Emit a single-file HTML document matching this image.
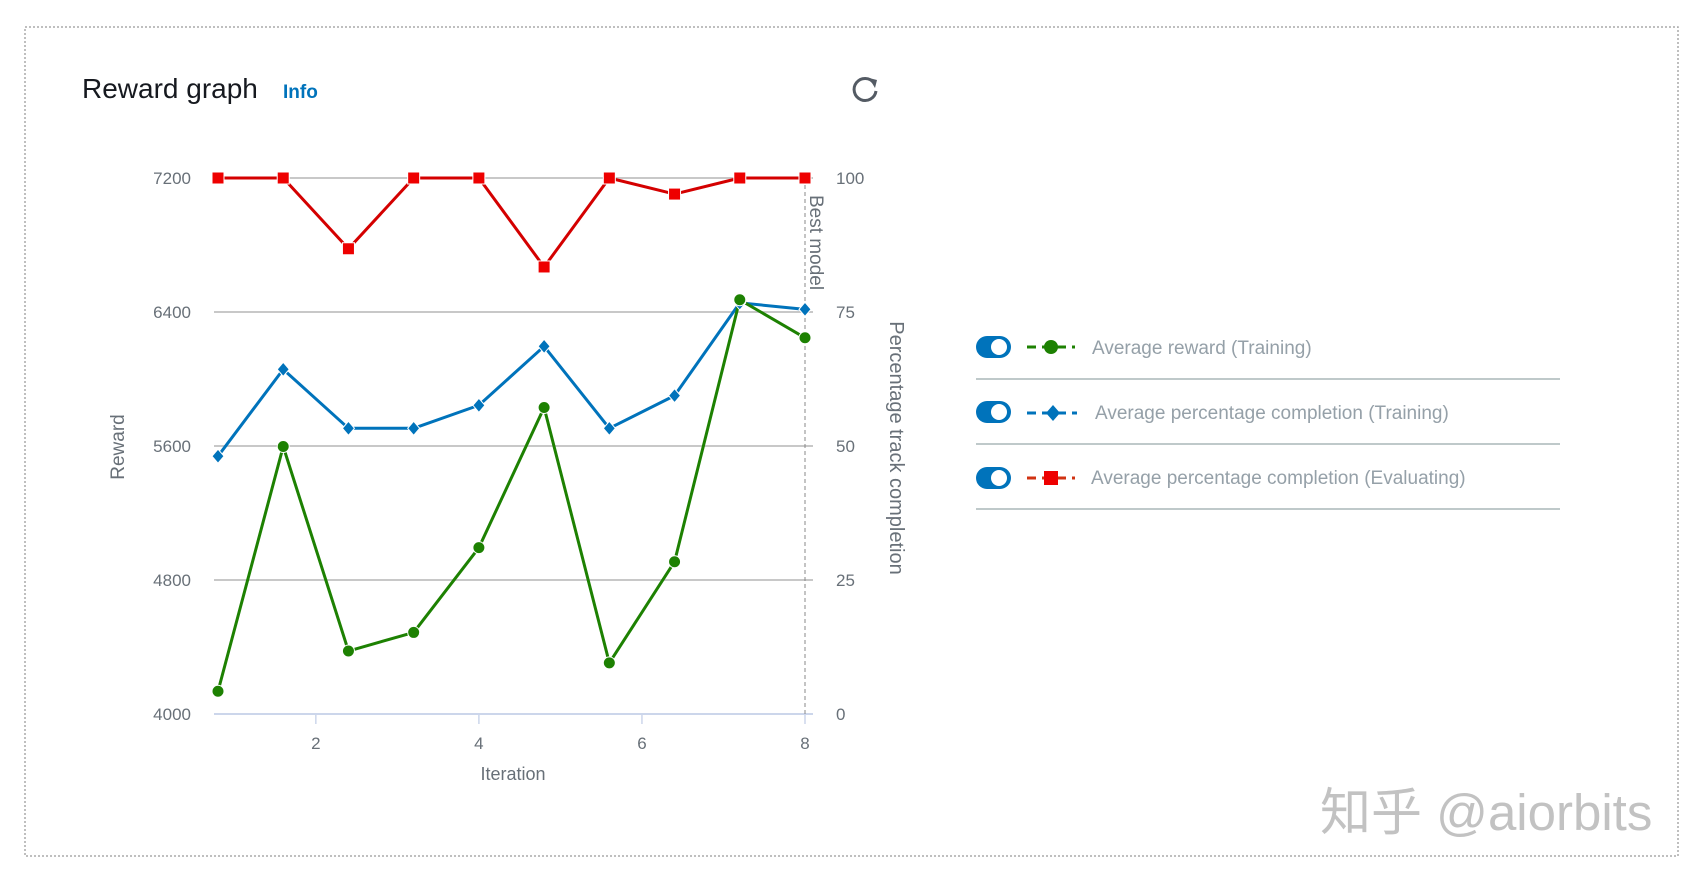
<!DOCTYPE html>
<html><head><meta charset="utf-8">
<style>
html,body{margin:0;padding:0;background:#fff;}
body{width:1702px;height:878px;overflow:hidden;font-family:"Liberation Sans","Noto Sans CJK SC",sans-serif;}
svg text{font-family:"Liberation Sans","Noto Sans CJK SC",sans-serif;}
</style></head>
<body>
<svg id="chart" width="1702" height="878" viewBox="0 0 1702 878" xmlns="http://www.w3.org/2000/svg">
  <rect x="25" y="27" width="1653" height="829" fill="none" stroke="#aaa" stroke-width="1.5" stroke-dasharray="2,2"/>
  <text x="82" y="98" font-size="28" fill="#16191f">Reward graph</text>
  <text x="283" y="98" font-size="19" font-weight="bold" fill="#0073bb">Info</text>
  <g transform="translate(865,89)">
    <path d="M9 -6 A11 11 0 1 0 11 2" fill="none" stroke="#545b64" stroke-width="3"/>
    <path d="M4 -11 L12 -9 L10 -1 Z" fill="#545b64"/>
  </g>
  <g id="grid"></g>
  <g id="axes"></g>
  <g id="series"></g>
  <text transform="translate(124,447) rotate(-90)" text-anchor="middle" font-size="19" fill="#687078">Reward</text>
  <text transform="translate(810,195) rotate(90)" font-size="19" fill="#687078">Best model</text>
  <text transform="translate(890,448) rotate(90)" text-anchor="middle" font-size="20" fill="#687078">Percentage track completion</text>
  <text x="513" y="780" text-anchor="middle" font-size="18" fill="#687078">Iteration</text>

  <g>
    <g>
      <rect x="976" y="336" width="35" height="22" rx="11" fill="#0073bb"/><circle cx="999" cy="347" r="8" fill="#fff"/>
      <line x1="1027" y1="347" x2="1075" y2="347" stroke="#1d8102" stroke-width="3" stroke-dasharray="9,6"/>
      <circle cx="1051" cy="347" r="7" fill="#1d8102"/>
      <text x="1092" y="354" font-size="19" fill="#95a0a8">Average reward (Training)</text>
    </g>
    <line x1="976" y1="379" x2="1560" y2="379" stroke="#aab7b8" stroke-width="1.5"/>
    <g>
      <rect x="976" y="401" width="35" height="22" rx="11" fill="#0073bb"/><circle cx="999" cy="412" r="8" fill="#fff"/>
      <line x1="1027" y1="413" x2="1077" y2="413" stroke="#0073bb" stroke-width="3" stroke-dasharray="9,6"/>
      <path d="M1053 405 L1060 413 L1053 421 L1046 413 Z" fill="#0073bb"/>
      <text x="1095" y="419" font-size="19" fill="#95a0a8">Average percentage completion (Training)</text>
    </g>
    <line x1="976" y1="444" x2="1560" y2="444" stroke="#aab7b8" stroke-width="1.5"/>
    <g>
      <rect x="976" y="467" width="35" height="22" rx="11" fill="#0073bb"/><circle cx="999" cy="478" r="8" fill="#fff"/>
      <line x1="1027" y1="478" x2="1075" y2="478" stroke="#d13212" stroke-width="3" stroke-dasharray="9,6"/>
      <rect x="1044" y="471" width="14" height="14" fill="#e00"/>
      <text x="1091" y="484" font-size="19" fill="#95a0a8">Average percentage completion (Evaluating)</text>
    </g>
    <line x1="976" y1="509" x2="1560" y2="509" stroke="#aab7b8" stroke-width="1.5"/>
  </g>
  <text x="1320" y="830" font-size="51" fill="#c2c2c2">知乎 @aiorbits</text>
</svg>
<script>
const iterations=[0.8,1.6,2.4,3.2,4.0,4.8,5.6,6.4,7.2,8.0];
const rewardValues=[4136,5597,4376,4487,4993,5830,4305,4909,6473,6246];
const trainPctValues=[48.1,64.3,53.3,53.3,57.6,68.6,53.3,59.4,76.7,75.5];
const evalPctValues=[100,100,86.8,100,100,83.4,100,97,100,100];
const leftTicks=[4000,4800,5600,6400,7200];
const rightTicks=[0,25,50,75,100];
const xTicks=[2,4,6,8];
const bestModelIteration=8;

const NS="http://www.w3.org/2000/svg";
const X0=218,X1=805,Y0=714,Y1=178;
const xs=v=>X0+(v-0.8)/(8-0.8)*(X1-X0);
const yl=v=>Y0-(v-4000)/3200*(Y0-Y1);
const yr=v=>Y0-v/100*(Y0-Y1);
function mk(tag,attrs,parent){const e=document.createElementNS(NS,tag);for(const k in attrs)e.setAttribute(k,attrs[k]);parent.appendChild(e);return e;}
const grid=document.getElementById('grid'),axes=document.getElementById('axes'),ser=document.getElementById('series');
leftTicks.forEach((t,i)=>{
  const y=yl(t);
  if(i>0){const g=mk('line',{x1:X0-4,x2:X1+8,y1:y,y2:y,stroke:'#c8c8c8','stroke-width':2},grid);
  
  }
  const tx=mk('text',{x:191,y:y+6,'text-anchor':'end','font-size':17,fill:'#687078'},axes);tx.textContent=t;
  
  
});
rightTicks.forEach(t=>{
  const tx=mk('text',{x:836,y:yr(t)+6,'font-size':17,fill:'#687078'},axes);tx.textContent=t;
  
  
});
const xa=mk('line',{x1:X0-4,x2:X1+8,y1:Y0,y2:Y0,stroke:'#ccd6eb','stroke-width':2},axes);


xTicks.forEach(t=>{
  const x=xs(t);
  mk('line',{x1:x,x2:x,y1:Y0,y2:Y0+10,stroke:'#ccd6eb','stroke-width':1.5},axes);
  const tx=mk('text',{x:x,y:749,'text-anchor':'middle','font-size':17,fill:'#687078'},axes);tx.textContent=t;
  
  
});
const bm=mk('line',{x1:xs(bestModelIteration),x2:xs(bestModelIteration),y1:Y1,y2:Y0,stroke:'#888','stroke-width':1,'stroke-dasharray':'4,3'},axes);



function line(vals,yf,color,name){
  const p=mk('polyline',{points:vals.map((v,i)=>xs(iterations[i])+','+yf(v)).join(' '),fill:'none',stroke:color,'stroke-width':3,'stroke-linejoin':'round'},ser);
  
  
}
line(evalPctValues,yr,'#d40000','evaluating-completion');
line(trainPctValues,yr,'#0073bb','training-completion');
line(rewardValues,yl,'#1d8102','reward');
evalPctValues.forEach((v,i)=>{const x=xs(iterations[i]),y=yr(v);
  const m=mk('rect',{x:x-6,y:y-6,width:12,height:12,fill:'#e00',stroke:'#fff','stroke-width':1},ser);
  
  });
trainPctValues.forEach((v,i)=>{const x=xs(iterations[i]),y=yr(v);
  const m=mk('path',{d:`M${x} ${y-7}L${x+6} ${y}L${x} ${y+7}L${x-6} ${y}Z`,fill:'#0073bb',stroke:'#fff','stroke-width':1},ser);
  
  });
rewardValues.forEach((v,i)=>{const x=xs(iterations[i]),y=yl(v);
  const m=mk('circle',{cx:x,cy:y,r:6,fill:'#1d8102',stroke:'#fff','stroke-width':1},ser);
  
  });
</script>
</body></html>
